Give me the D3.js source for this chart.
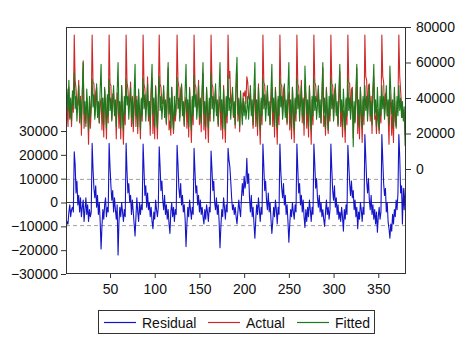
<!DOCTYPE html>
<html><head><meta charset="utf-8">
<script src="https://cdn.jsdelivr.net/npm/d3@7"></script>
<style>html,body{margin:0;padding:0;background:#fff;} svg text{font-family:"Liberation Sans",Arial,sans-serif;}</style>
</head><body><svg id="c" width="474" height="355"></svg>
<script>
// Residual (left axis)
const residual = [
-10200,-8000,-9000,-4000,-1000,-6000,-3000,-2000,-4000,
21300,16000,4000,9000,-1000,3000,-4000,2000,-6000,-2000,1000,-8000,-3000,2000,-5000,-1000,-8000,-3000,-6000,-4000,
24800,14000,6000,2000,7000,-2000,3000,-5000,0,-8000,-19500,-10000,-3000,-7000,-1000,2000,-6000,-2000,-4000,
24800,15000,7000,1000,5000,-4000,2000,-3000,-7000,-1000,-22000,-8000,-2000,-6000,0,-4000,-8000,-3000,-6000,
24800,13000,4000,8000,0,3000,-5000,1000,-4000,-9000,-14000,-6000,2000,-4000,-8000,0,-5000,-1000,-3000,
24500,14000,3000,7000,-2000,4000,-3000,0,-6000,-2000,-8000,-11000,-4000,-7000,1000,-3000,-6000,-2000,
23400,15000,5000,9000,1000,-3000,3000,-5000,-1000,-7000,-3000,-9000,-13000,-4000,0,-6000,-2000,-8000,-3000,-5000,
24000,16000,6000,2000,8000,-1000,3000,-4000,-1000,-7000,-18500,-9000,-2000,-6000,1000,-3000,-7000,-2000,-5000,
22700,13000,4000,7000,-1000,3000,-4000,1000,-5000,-2000,-6000,-9000,-3000,-7000,-1000,-4000,-8000,-2000,-4000,
21600,14000,5000,9000,0,-3000,2000,-5000,-1000,-8000,-19000,-10000,-3000,-6000,2000,-2000,-7000,-1000,-4000,
22700,18000,15000,9000,2000,-3000,-1000,-5000,-2000,-6000,-9000,-4000,1000,-3000,-6000,2000,8000,3000,11000,6000,9000,
18500,8000,12000,2000,-4000,3000,-6000,-2000,-9000,-15000,-7000,-1000,-5000,2000,-3000,-8000,-2000,-5000,
24500,15000,5000,9000,1000,-3000,4000,-4000,0,-7000,-13000,-8000,-2000,-6000,1000,-3000,-9000,-2000,-5000,
24500,13000,6000,2000,8000,-1000,3000,-5000,-1000,-8000,-16700,-9000,-3000,-6000,0,-4000,-7000,-1000,-4000,
24500,14000,4000,8000,-1000,3000,-4000,1000,-6000,-10500,-3000,-8000,-2000,-6000,1000,-3000,-8000,-2000,-5000,
24500,16000,6000,10000,2000,-2000,3000,-4000,0,-6000,-3000,-7000,-10000,-4000,1000,-5000,-2000,-7000,-3000,
24500,14000,5000,1000,7000,-2000,2000,-5000,-1000,-7000,-4000,-8000,-2000,-6000,-12000,-3000,-7000,-1000,-5000,
24000,16000,8000,3000,9000,2000,5000,-3000,1000,-6000,-2000,-11000,-4000,-7000,0,-3000,-8000,-2000,-5000,
28500,19000,9000,4000,10000,1000,-3000,3000,-5000,-1000,-7000,-3000,-9000,-4000,-12500,-6000,-2000,-7000,-4000,
28500,18000,8000,3000,6000,-4000,0,-8000,-11000,-15000,-9000,-12000,-5000,-9000,-3000,-6000,1000,-3000,4000,
28500,19000,4000,7000,-9000,6000,-3000,6000
];
// Actual (right axis)
const actual = [
20800,37000,24000,46000,28000,34000,24000,42000,32000,
75500,50000,45000,36000,36000,50000,26000,41000,19000,42000,61000,23000,35000,26000,40000,32000,14000,38000,23000,33000,
75500,49000,48000,30000,43000,46000,32000,33000,26000,37000,39500,22000,37000,18000,45000,36000,17000,40000,26000,
75500,48000,47000,28000,42000,43000,32000,36000,17000,43000,38000,23000,36000,17000,47000,29000,14000,38000,25000,
75500,49000,45000,36000,38000,49000,24000,41000,21000,34000,45000,24000,41000,20000,37000,34000,17000,39000,27000,
75500,48000,45000,34000,35000,52000,27000,38000,19000,43000,51000,20000,36000,17000,47000,30000,17000,38000,
75500,48000,46000,37000,37000,44000,32000,34000,25000,37000,57000,22000,27000,19000,46000,28000,20000,33000,27000,33000,
75500,50000,46000,29000,45000,47000,33000,34000,24000,37000,40500,23000,37000,18000,46000,30000,15000,39000,25000,
75500,48000,46000,35000,35000,50000,25000,40000,21000,43000,54000,22000,35000,17000,45000,30000,15000,38000,27000,
75500,48000,46000,36000,37000,45000,32000,34000,24000,36000,41000,22000,36000,17000,47000,31000,15000,40000,26000,
75500,51000,55000,37000,39000,43000,29000,33000,23000,46000,54000,27000,40000,21000,38000,35000,33000,43000,41000,44000,37000,
52000,49000,40000,39000,43000,33000,33000,23000,36000,45000,24000,38000,19000,48000,30000,14000,38000,25000,
75500,49000,47000,36000,37000,44000,34000,34000,25000,37000,46000,24000,38000,18000,46000,30000,14000,39000,25000,
75500,48000,47000,30000,45000,47000,32000,34000,25000,37000,43300,22000,36000,17000,46000,30000,15000,39000,27000,
75500,48000,46000,35000,36000,50000,26000,40000,19000,47500,41000,23000,37000,18000,47000,30000,14000,39000,25000,
75500,49000,47000,38000,38000,45000,32000,35000,26000,38000,57000,24000,30000,19000,46000,29000,20000,34000,27000,
75500,48000,47000,28000,44000,46000,32000,33000,24000,38000,55000,24000,37000,18000,33000,30000,15000,39000,25000,
75500,49000,48000,31000,45000,46000,17500,35000,27000,38000,57000,20000,35000,17000,46000,30000,15000,39000,25000,
75500,52000,50000,31000,47000,48000,27000,41000,20000,44000,52000,28000,30000,20000,33500,27000,20000,34000,26000,
75500,52000,49000,31000,42000,43000,30000,31000,14000,43000,35000,19000,34000,15000,43000,27000,24000,38000,34000,
75500,52000,44000,36000,29000,33000,32000,19000
];
// Fitted (right axis)
const fitted = [
31000,45000,33000,50000,29000,40000,27000,44000,36000,
54200,34000,41000,27000,37000,47000,30000,39000,25000,44000,60000,31000,38000,24000,45000,33000,22000,41000,29000,37000,
50700,35000,42000,28000,36000,48000,29000,38000,26000,45000,59000,32000,40000,25000,46000,34000,23000,42000,30000,
50700,33000,40000,27000,37000,47000,30000,39000,24000,44000,60000,31000,38000,23000,47000,33000,22000,41000,31000,
50700,36000,41000,28000,38000,46000,29000,40000,25000,43000,59000,30000,39000,24000,45000,34000,22000,40000,30000,
51000,34000,42000,27000,37000,48000,30000,38000,25000,45000,59000,31000,40000,24000,46000,33000,23000,40000,
52100,33000,41000,28000,36000,47000,29000,39000,26000,44000,60000,31000,40000,23000,46000,34000,22000,41000,30000,38000,
51500,34000,40000,27000,37000,48000,30000,38000,25000,44000,59000,32000,39000,24000,45000,33000,22000,41000,30000,
52800,35000,42000,28000,36000,47000,29000,39000,26000,45000,60000,31000,38000,24000,46000,34000,23000,40000,31000,
53900,34000,41000,27000,37000,48000,30000,39000,25000,44000,60000,32000,39000,23000,45000,33000,22000,41000,30000,
52800,33000,40000,28000,37000,46000,30000,38000,25000,52000,63000,31000,39000,24000,44000,33000,25000,40000,30000,38000,28000,
33500,41000,28000,37000,47000,30000,39000,25000,45000,60000,31000,39000,24000,46000,33000,22000,40000,30000,
51000,34000,42000,27000,36000,47000,30000,38000,25000,44000,59000,32000,40000,24000,45000,33000,23000,41000,30000,
51000,35000,41000,28000,37000,48000,29000,39000,26000,45000,60000,31000,39000,23000,46000,34000,22000,40000,31000,
51000,34000,42000,27000,37000,47000,30000,39000,25000,58000,44000,31000,39000,24000,46000,33000,22000,41000,30000,
51000,33000,41000,28000,36000,47000,29000,39000,26000,44000,60000,31000,40000,23000,45000,34000,22000,41000,30000,
51000,34000,42000,27000,37000,48000,30000,38000,25000,45000,59000,32000,39000,24000,45000,33000,22000,40000,30000,
51500,33000,40000,28000,36000,44000,12500,38000,26000,44000,59000,31000,39000,24000,46000,33000,23000,41000,30000,
47000,33000,41000,27000,37000,47000,30000,38000,25000,45000,59000,31000,39000,24000,46000,33000,22000,41000,30000,
47000,34000,41000,28000,36000,47000,30000,39000,25000,58000,44000,31000,39000,24000,46000,33000,23000,41000,30000,
47000,33000,40000,29000,38000,27000,35000,13000
];
const leftTicks = [-30000,-20000,-10000,0,10000,20000,30000];
const rightTicks = [0,20000,40000,60000,80000];
const xTicks = [50,100,150,200,250,300,350];
const seLevel = 9700;
const seriesNames = ["Residual","Actual","Fitted"];

const colors = {Residual:"#1414c8", Actual:"#d02828", Fitted:"#1c7a1c"};
const obs = d3.range(1, residual.length + 1);

const svg = d3.select("#c");
const L = 66, R = 406, T = 27, B = 274;
const x = d3.scaleLinear().domain([1, 381]).range([66.2, R]);
const yL = d3.scaleLinear().domain([-30000, 73640]).range([B, T]);
const yR = d3.scaleLinear().domain([-59150, 80000]).range([B, T]);

svg.append("rect").attr("width",474).attr("height",355).attr("fill","#fff");

// reference lines on residual scale
svg.selectAll("line.se").data([seLevel, -seLevel]).enter().append("line")
  .attr("x1", L).attr("x2", R).attr("y1", d=>yL(d)).attr("y2", d=>yL(d))
  .attr("stroke","#a0a0a0").attr("stroke-width",1).attr("stroke-dasharray","4,3");
svg.append("line").attr("x1",L).attr("x2",R).attr("y1",yL(0)).attr("y2",yL(0))
  .attr("stroke","#3c4060").attr("stroke-width",1);

svg.append("clipPath").attr("id","pc").append("rect")
  .attr("x",L).attr("y",T).attr("width",R-L).attr("height",B-T);
const g = svg.append("g").attr("clip-path","url(#pc)");

const lineL = d3.line().x((d,i)=>x(obs[i])).y(d=>yL(d));
const lineR = d3.line().x((d,i)=>x(obs[i])).y(d=>yR(d));

g.append("path").datum(residual).attr("d", lineL).attr("fill","none")
  .attr("stroke", colors.Residual).attr("stroke-width",1.1).attr("stroke-linejoin","round");
g.append("path").datum(actual).attr("d", lineR).attr("fill","none")
  .attr("stroke", colors.Actual).attr("stroke-width",1.1).attr("stroke-linejoin","round");
g.append("path").datum(fitted).attr("d", lineR).attr("fill","none")
  .attr("stroke", colors.Fitted).attr("stroke-width",1.1).attr("stroke-linejoin","round");

// frame
svg.append("rect").attr("x",L+0.5).attr("y",T+0.5).attr("width",R-L-1).attr("height",B-T-1)
  .attr("fill","none").attr("stroke","#333").attr("stroke-width",1);

function styleAxis(sel){
  sel.select(".domain").remove();
  sel.selectAll(".tick line").attr("stroke","#333");
  sel.selectAll(".tick text").attr("fill","#111").style("font-size","14px");
}
svg.append("g").attr("transform",`translate(${L},0)`)
  .call(d3.axisLeft(yL).tickValues(leftTicks).tickFormat(d3.format("d")).tickSize(5).tickPadding(3))
  .call(styleAxis);
svg.append("g").attr("transform",`translate(${R},0)`)
  .call(d3.axisRight(yR).tickValues(rightTicks).tickFormat(d3.format("d")).tickSize(5).tickPadding(5))
  .call(styleAxis);
svg.append("g").attr("transform",`translate(0,${B})`)
  .call(d3.axisBottom(x).tickValues(xTicks).tickFormat(d3.format("d")).tickSize(4).tickPadding(6))
  .call(styleAxis);

// legend
const lg = svg.append("g");
lg.append("rect").attr("x",98.5).attr("y",310.5).attr("width",276).attr("height",23)
  .attr("fill","#fff").attr("stroke","#333").attr("stroke-width",1);
const legX = [104, 208, 297];
seriesNames.forEach((name,i)=>{
  lg.append("line").attr("x1",legX[i]).attr("x2",legX[i]+32).attr("y1",322.5).attr("y2",322.5)
    .attr("stroke",colors[name]).attr("stroke-width",1.2);
  lg.append("text").attr("x",legX[i]+38).attr("y",327.5).text(name)
    .style("font-size","14px").attr("fill","#111");
});
</script></body></html>
